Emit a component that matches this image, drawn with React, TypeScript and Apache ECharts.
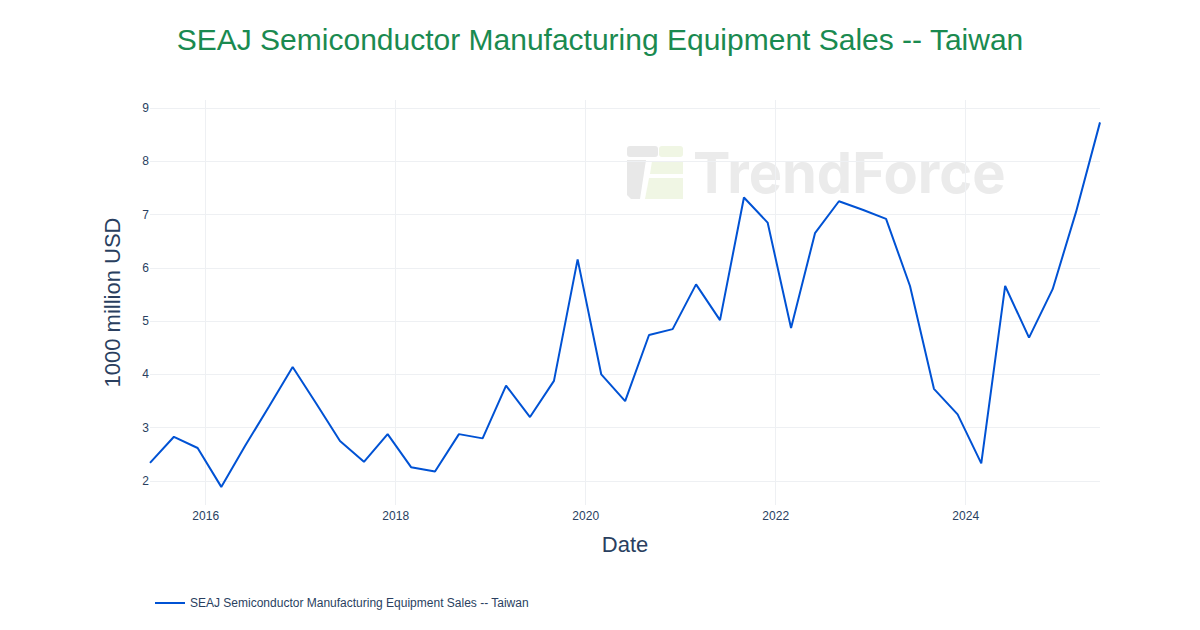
import React, { useEffect, useRef } from "react";
import * as echarts from "echarts";

const TITLE = "SEAJ Semiconductor Manufacturing Equipment Sales -- Taiwan";
const SERIES_NAME = "SEAJ Semiconductor Manufacturing Equipment Sales -- Taiwan";

const dates: string[] = [
  "2015-06-01", "2015-09-01", "2015-12-01",
  "2016-03-01", "2016-06-01", "2016-09-01", "2016-12-01",
  "2017-03-01", "2017-06-01", "2017-09-01", "2017-12-01",
  "2018-03-01", "2018-06-01", "2018-09-01", "2018-12-01",
  "2019-03-01", "2019-06-01", "2019-09-01", "2019-12-01",
  "2020-03-01", "2020-06-01", "2020-09-01", "2020-12-01",
  "2021-03-01", "2021-06-01", "2021-09-01", "2021-12-01",
  "2022-03-01", "2022-06-01", "2022-09-01", "2022-12-01",
  "2023-03-01", "2023-06-01", "2023-09-01", "2023-12-01",
  "2024-03-01", "2024-06-01", "2024-09-01", "2024-12-01",
  "2025-03-01", "2025-06-01",
];

const sales: number[] = [
  2.34, 2.83, 2.62,
  1.89, 2.66, 3.40, 4.14,
  3.46, 2.75, 2.36, 2.88,
  2.26, 2.18, 2.88, 2.80,
  3.79, 3.20, 3.88, 6.16,
  4.00, 3.50, 4.74, 4.85,
  5.69, 5.02, 7.32, 6.85,
  4.87, 6.65, 7.25, 7.09,
  6.92, 5.66, 3.73, 3.25,
  2.33, 5.66, 4.69, 5.60,
  7.05, 8.73,
];

const X_MIN_DATE = "2015-06-01";
const X_MAX_DATE = "2025-06-01";
const Y_MIN = 1.55;
const Y_MAX = 9.15;

function decimalYear(s: string): number {
  const [y, m, d] = s.split("-").map(Number);
  const start = Date.UTC(y, 0, 1);
  const end = Date.UTC(y + 1, 0, 1);
  return y + (Date.UTC(y, m - 1, d) - start) / (end - start);
}

const FONT = "'Liberation Sans', Arial, sans-serif";
const TEXT = "#2a3f5f";
const GRID = "#eef0f3";

export default function App() {
  const ref = useRef<HTMLDivElement>(null);
  useEffect(() => {
    if (!ref.current) return;
    const chart = echarts.init(ref.current, undefined, { renderer: "svg" });
    const data = dates.map((d, i) => [decimalYear(d), sales[i]]);
    chart.setOption({
      animation: false,
      backgroundColor: "#ffffff",
      textStyle: { fontFamily: FONT },
      title: {
        text: TITLE,
        left: "center",
        top: 19,
        textStyle: { fontSize: 30, fontWeight: "normal", color: "#1a8a50", fontFamily: FONT },
      },
      graphic: [
        {
          type: "group",
          z: -10,
          silent: true,
          children: [
            { type: "rect", shape: { x: 627, y: 146, width: 31, height: 11, r: 3 }, style: { fill: "#e8e8e8" } },
            { type: "polygon", shape: { points: [[627, 160], [646, 160], [640, 199], [631, 199], [627, 195]] }, style: { fill: "#e8e8e8" } },
            { type: "rect", shape: { x: 659, y: 146, width: 24, height: 11, r: 3 }, style: { fill: "#f0f6e4" } },
            { type: "polygon", shape: { points: [[652, 161], [683, 161], [683, 174], [650, 174]] }, style: { fill: "#f0f6e4" } },
            { type: "polygon", shape: { points: [[649, 178], [683, 178], [683, 199], [645, 199]] }, style: { fill: "#f0f6e4" } },
            {
              type: "text",
              x: 693,
              y: 173,
              style: {
                text: "TrendForce",
                fill: "#ebebeb",
                font: "bold 56px Inter, 'Open Sans', sans-serif",
                verticalAlign: "middle",
                align: "left",
              },
            },
          ],
        },
      ],
      grid: { left: 150, right: 100, top: 100, bottom: 125, containLabel: false },
      legend: {
        left: 155,
        top: 597,
        padding: 0,
        icon: "rect",
        itemWidth: 30,
        itemHeight: 2,
        itemGap: 5,
        textStyle: { fontSize: 12, color: TEXT, fontFamily: FONT },
        data: [SERIES_NAME],
      },
      xAxis: {
        type: "value",
        min: decimalYear(X_MIN_DATE),
        max: decimalYear(X_MAX_DATE),
        minInterval: 2,
        maxInterval: 2,
        name: "Date",
        nameLocation: "middle",
        nameGap: 28,
        nameTextStyle: { fontSize: 22, color: TEXT, fontFamily: FONT },
        axisLine: { show: false },
        axisTick: { show: false },
        axisLabel: {
          fontSize: 12,
          color: TEXT,
          margin: 5,
          showMinLabel: false,
          showMaxLabel: false,
          formatter: (v: number) => (Math.abs(v - Math.round(v)) < 1e-6 ? String(Math.round(v)) : ""),
        },
        splitLine: { show: true, showMinLine: false, showMaxLine: false, lineStyle: { color: GRID, width: 1 } },
      },
      yAxis: {
        type: "value",
        min: Y_MIN,
        max: Y_MAX,
        minInterval: 1,
        maxInterval: 1,
        name: "1000 million USD",
        nameLocation: "middle",
        nameGap: 27,
        nameTextStyle: { fontSize: 22, color: TEXT, fontFamily: FONT },
        axisLine: { show: false },
        axisTick: { show: false },
        axisLabel: {
          fontSize: 12,
          color: TEXT,
          margin: 1,
          showMinLabel: false,
          showMaxLabel: false,
          formatter: (v: number) => (Math.abs(v - Math.round(v)) < 1e-6 ? String(Math.round(v)) : ""),
        },
        splitLine: { show: true, showMinLine: false, showMaxLine: false, lineStyle: { color: GRID, width: 1 } },
      },
      series: [
        {
          name: SERIES_NAME,
          type: "line",
          data,
          showSymbol: false,
          symbol: "none",
          lineStyle: { color: "#0052d4", width: 2 },
          itemStyle: { color: "#0052d4" },
          clip: true,
        },
      ],
    });
    return () => chart.dispose();
  }, []);
  return <div ref={ref} style={{ width: 1200, height: 630, position: "absolute", left: 0, top: 0 }} />;
}
